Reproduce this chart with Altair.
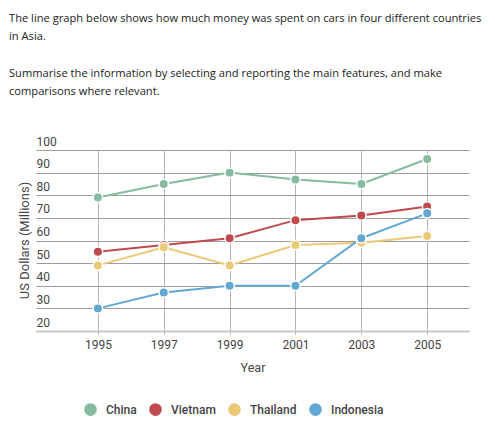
import altair as alt
import pandas as pd

years = [1995, 1997, 1999, 2001, 2003, 2005]
countries = ["China", "Vietnam", "Thailand", "Indonesia"]
china = [79, 85, 90, 87, 85, 96]
vietnam = [55, 58, 61, 69, 71, 75]
thailand = [49, 57, 49, 58, 59, 62]
indonesia = [30, 37, 40, 40, 61, 72]
colors = ["#86bba0", "#c04a4e", "#ebc976", "#62a8d2"]
y_ticks = [30, 40, 50, 60, 70, 80, 90, 100]
y_labels = [20, 30, 40, 50, 60, 70, 80, 90, 100]
title_lines = [
    "The line graph below shows how much money was spent on cars in four different countries",
    "in Asia.",
]
subtitle_lines = [
    "Summarise the information by selecting and reporting the main features, and make",
    "comparisons where relevant.",
]

rows = []
for name, vals in zip(countries, [china, vietnam, thailand, indonesia]):
    for yr, v in zip(years, vals):
        rows.append({"Year": yr, "Country": name, "Value": v})
df = pd.DataFrame(rows)

x = alt.X(
    "Year:Q",
    scale=alt.Scale(domain=[1993.12, 2006.27], nice=False, zero=False),
    axis=alt.Axis(
        values=years, format="d", title="Year", grid=True, gridColor="#b5b5b5",
        domain=True, domainColor="#c8c8c8", domainWidth=2,
        ticks=True, tickColor="#b5b5b5", tickSize=3,
        labelFontSize=12, labelColor="#444", labelPadding=5, labelFont="Roboto",
        titleFont="Roboto", titleFontSize=12.5, titleFontWeight="normal",
        titleColor="#444", titlePadding=11,
    ),
)
y = alt.Y(
    "Value:Q",
    scale=alt.Scale(domain=[20, 100], nice=False, zero=False),
    axis=alt.Axis(
        values=y_labels, title="US Dollars (Millions)", grid=True, gridColor="#9c9c9c",
        domain=False, ticks=False, labelAlign="left", labelBaseline="bottom",
        labelPadding=0, labelOffset=-2, labelFontSize=12, labelColor="#444",
        labelFont="Roboto", titleFont="Roboto", titleFontSize=13,
        titleFontWeight="normal", titleColor="#444", titleX=-12, titleY=90,
        titleAngle=-90, titleAlign="center", titleBaseline="middle",
    ),
)
color = alt.Color(
    "Country:N",
    scale=alt.Scale(domain=countries, range=colors),
    sort=countries,
    legend=alt.Legend(
        title=None, orient="none", legendX=48, legendY=253, direction="horizontal",
        symbolType="circle", symbolSize=160, symbolStrokeWidth=0, symbolOpacity=1,
        labelFontSize=12, labelFont="Roboto", labelColor="#444", labelFontWeight=500,
        columnPadding=12, labelOffset=9,
    ),
)

lines = alt.Chart(df).mark_line(strokeWidth=2).encode(x=x, y=y, color=color)
points = alt.Chart(df).mark_point(
    filled=True, size=90, stroke="white", strokeWidth=1.5, opacity=1
).encode(x=x, y=y, fill=alt.Fill("Country:N", scale=alt.Scale(domain=countries, range=colors), legend=None))

chart = (
    alt.layer(lines, points)
    .properties(
        width=433, height=181,
        title=alt.TitleParams(
            text=title_lines, subtitle=subtitle_lines, anchor="start", frame="bounds",
            font="Open Sans", fontSize=11.15, fontWeight="normal", color="#222",
            lineHeight=18, subtitleFont="Open Sans", subtitleFontSize=11.15,
            subtitleColor="#222", subtitleLineHeight=18, subtitlePadding=26,
            offset=38, dx=-9,
        ),
        padding={"left": 1, "top": 4, "right": 0, "bottom": 5},
        background="white",
    )
    .configure_view(stroke=None)
)

chart.save("out.html", embed_options={"renderer": "svg", "actions": False})
